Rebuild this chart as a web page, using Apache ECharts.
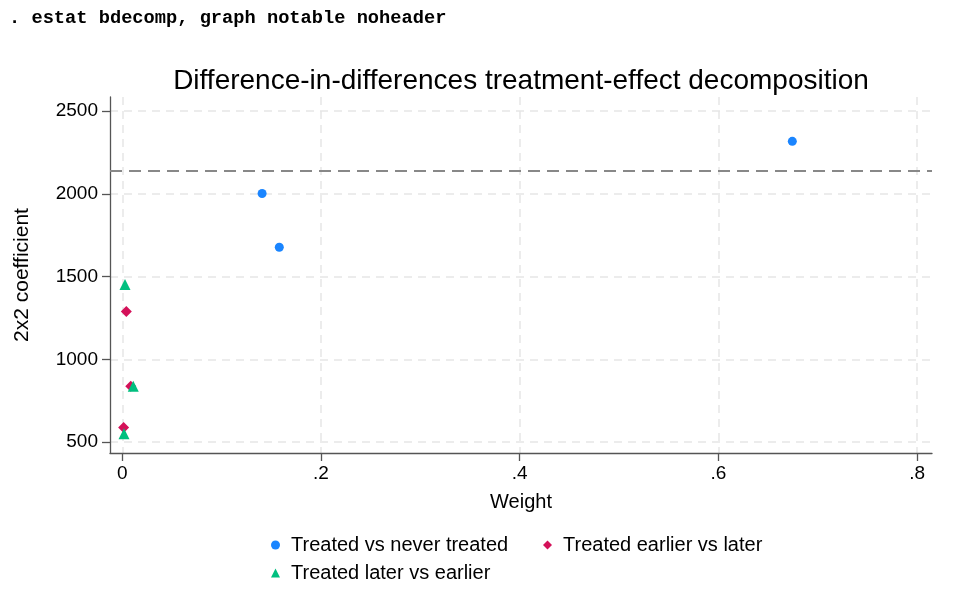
<!DOCTYPE html>
<html><head><meta charset="utf-8">
<script src="https://cdn.jsdelivr.net/npm/echarts@6/dist/echarts.min.js"></script>
<style>html,body{margin:0;padding:0;background:#fff}#c{width:957px;height:597px}</style>
</head><body><div id="c"></div>
<script>
const neverTreated = [[0.1407, 2003], [0.158, 1678], [0.6744, 2318]];
const earlierVsLater = [[0.004, 1290], [0.0085, 838], [0.0013, 588]];
const laterVsEarlier = [[0.0027, 1452], [0.011, 838], [0.0017, 550]];
const overallEffect = 2138;
const xTicks = [0, 0.2, 0.4, 0.6, 0.8];
const yTicks = [500, 1000, 1500, 2000, 2500];
const seriesNames = ['Treated vs never treated', 'Treated earlier vs later', 'Treated later vs earlier'];
const titleText = 'Difference-in-differences treatment-effect decomposition';
const commandText = '. estat bdecomp, graph notable noheader';

const FONT = 'Liberation Sans, Arial, Helvetica, sans-serif';
const chart = echarts.init(document.getElementById('c'), null, {renderer: 'canvas'});
const fmtX = v => v === 0 ? '0' : String(+v.toFixed(2)).replace(/^0/, '');
const legendBase = {itemWidth: 9, itemHeight: 9, textStyle: {fontFamily: FONT, fontSize: 20, color: '#000', padding: [0, 0, 0, 6]}, selectedMode: false, padding: 0};
chart.setOption({
  animation: false,
  title: [
    {text: titleText, left: 516, textAlign: 'center', top: 62, textStyle: {fontFamily: FONT, fontSize: 28, fontWeight: 'normal', color: '#000'}},
    {text: commandText, left: 4, top: 4, textStyle: {fontFamily: 'Liberation Mono, Courier New, monospace', fontSize: 18.7, fontWeight: 'bold', color: '#000'}}
  ],
  grid: {left: 110, right: 25, top: 97, bottom: 144},
  xAxis: {
    type: 'value', min: -0.0124, max: 0.815,
    name: 'Weight', nameLocation: 'middle', nameGap: 39,
    nameTextStyle: {fontFamily: FONT, fontSize: 20, color: '#000'},
    axisLine: {show: true, onZero: false, lineStyle: {color: '#555', width: 1.3}},
    axisTick: {show: true, customValues: xTicks, length: 8, lineStyle: {color: '#555', width: 1.3}},
    axisLabel: {customValues: xTicks, formatter: fmtX, fontFamily: FONT, fontSize: 19, color: '#000', margin: 11},
    splitLine: {show: true, lineStyle: {color: '#e6e6e6', type: [8, 6], width: 1.5}}
  },
  yAxis: {
    type: 'value', min: 434, max: 2586,
    name: '2x2 coefficient', nameLocation: 'middle', nameGap: 77, nameRotate: 90,
    nameTextStyle: {fontFamily: FONT, fontSize: 21, color: '#000'},
    axisLine: {show: true, onZero: false, lineStyle: {color: '#555', width: 1.3}},
    axisTick: {show: true, customValues: yTicks, length: 8, lineStyle: {color: '#555', width: 1.3}},
    axisLabel: {customValues: yTicks, formatter: v => String(v), fontFamily: FONT, fontSize: 19, color: '#000', margin: 12},
    splitLine: {show: true, lineStyle: {color: '#e6e6e6', type: [8, 6], width: 1.5}}
  },
  legend: [
    Object.assign({}, legendBase, {data: [seriesNames[0]], left: 271, top: 535}),
    Object.assign({}, legendBase, {data: [seriesNames[1]], left: 543, top: 535}),
    Object.assign({}, legendBase, {data: [seriesNames[2]], left: 271, top: 563})
  ],
  series: [
    {name: seriesNames[0], type: 'scatter', symbol: 'circle', symbolSize: 9, data: neverTreated, itemStyle: {color: '#1a85ff', opacity: 1},
     markLine: {silent: true, symbol: 'none', label: {show: false}, lineStyle: {color: '#888', type: [12, 7], width: 1.8}, data: [{yAxis: overallEffect}]}},
    {name: seriesNames[1], type: 'scatter', symbol: 'diamond', symbolSize: 11, data: earlierVsLater, itemStyle: {color: '#d41159', opacity: 1}},
    {name: seriesNames[2], type: 'scatter', symbol: 'triangle', symbolSize: 11, data: laterVsEarlier, itemStyle: {color: '#00bf7f', opacity: 1}}
  ]
});
</script></body></html>
